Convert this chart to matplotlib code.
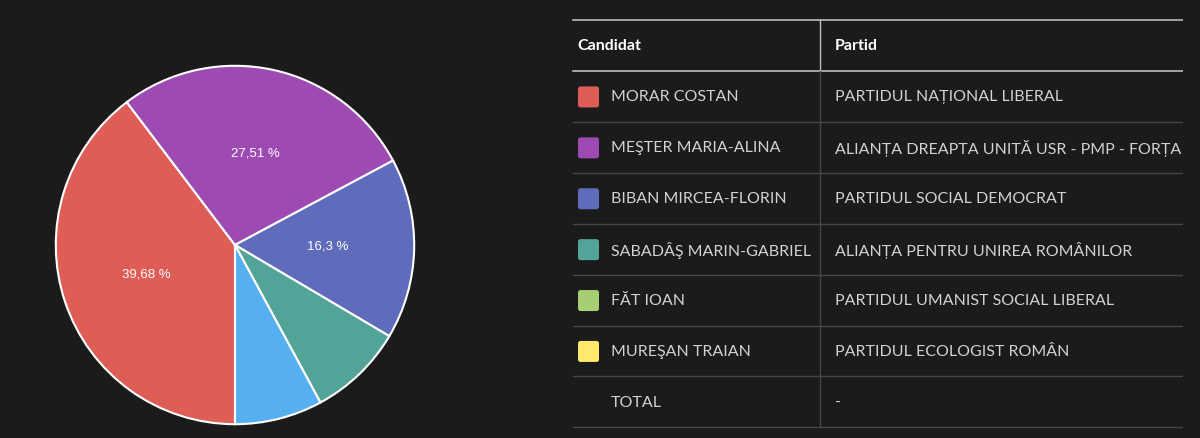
import matplotlib.pyplot as plt
import numpy as np
from matplotlib.patches import FancyBboxPatch

# date
candidati = ["MORAR COSTAN", "MEŞTER MARIA-ALINA", "BIBAN MIRCEA-FLORIN",
             "SABADÂŞ MARIN-GABRIEL", "FĂT IOAN", "MUREŞAN TRAIAN"]
partide = ["PARTIDUL NAȚIONAL LIBERAL",
           "ALIANȚA DREAPTA UNITĂ USR - PMP - FORȚA DREPTEI",
           "PARTIDUL SOCIAL DEMOCRAT",
           "ALIANȚA PENTRU UNIREA ROMÂNILOR",
           "PARTIDUL UMANIST SOCIAL LIBERAL",
           "PARTIDUL ECOLOGIST ROMÂN"]
culori_tabel = ["#de5d56", "#9d4bb3", "#5f6bbb", "#52a498", "#a5cf72", "#fde96b"]

# felii (ultima felie nu apare in tabel)
procente = [39.68, 27.51, 16.3, 8.6, 7.91]
culori_pie = ["#de5d56", "#9d4bb3", "#5f6bbb", "#52a498", "#56b0f0"]

bg = "#1b1b1b"
fig = plt.figure(figsize=(12, 4.38), dpi=100, facecolor=bg)

# pie
ax = fig.add_axes([(235 - 181) / 1200, (193 - 181) / 438, 362 / 1200, 362 / 438])
ax.set_facecolor(bg)
wedges, _ = ax.pie(procente, colors=culori_pie, startangle=270, counterclock=False,
                   wedgeprops=dict(edgecolor="white", linewidth=1.5))
for w, p in zip(wedges, procente):
    if p < 10:
        continue
    ang = np.deg2rad((w.theta1 + w.theta2) / 2)
    txt = f"{p:g} %".replace(".", ",")
    ax.text(0.52 * np.cos(ang), 0.52 * np.sin(ang), txt, ha="center", va="center",
            color="white", fontsize=9.5, family="Liberation Sans")
ax.set_xlim(-1.01, 1.01)
ax.set_ylim(-1.01, 1.01)
ax.axis("off")

# tabel (taiat la dreapta, ca in original)
tx = fig.add_axes([0, 0, 1183 / 1200, 1])
tx.set_xlim(0, 1183)
tx.set_ylim(438, 0)
tx.axis("off")
tx.patch.set_alpha(0)

fam = ["Lato", "DejaVu Sans"]
x0, x1, xs = 573, 1183, 820
top, head = 20, 71
rh = 50.9

tx.plot([x0, x1], [top, top], color="#bdbdbd", lw=1.2)
tx.plot([x0, x1], [head, head], color="#bdbdbd", lw=1.2)
tx.plot([xs, xs], [top, head], color="#bdbdbd", lw=1.0)
tx.text(577, (top + head) / 2, "Candidat", color="white", fontsize=11.5,
        fontweight="bold", family=fam, va="center")
tx.text(835, (top + head) / 2, "Partid", color="white", fontsize=11.5,
        fontweight="bold", family=fam, va="center")

rows = candidati + ["TOTAL"]
part = partide + ["-"]
for i, (c, p) in enumerate(zip(rows, part)):
    y_top = head + i * rh
    y_bot = y_top + rh
    yc = (y_top + y_bot) / 2 + 1
    tx.plot([x0, x1], [y_bot, y_bot], color="#454545", lw=1.0)
    tx.plot([xs, xs], [y_top, y_bot], color="#454545", lw=1.0)
    if i < len(culori_tabel):
        tx.add_patch(FancyBboxPatch((578, yc - 11), 21, 21,
                                    boxstyle="round,pad=0,rounding_size=2.5",
                                    fc=culori_tabel[i], ec="none"))
    tx.text(611, yc, c, color="#d2d2d2", fontsize=11.5, family=fam, va="center")
    tx.text(835, yc, p, color="#d2d2d2", fontsize=11.5, family=fam, va="center",
            clip_on=True)

fig.savefig("out.png", dpi=100, facecolor=bg)
